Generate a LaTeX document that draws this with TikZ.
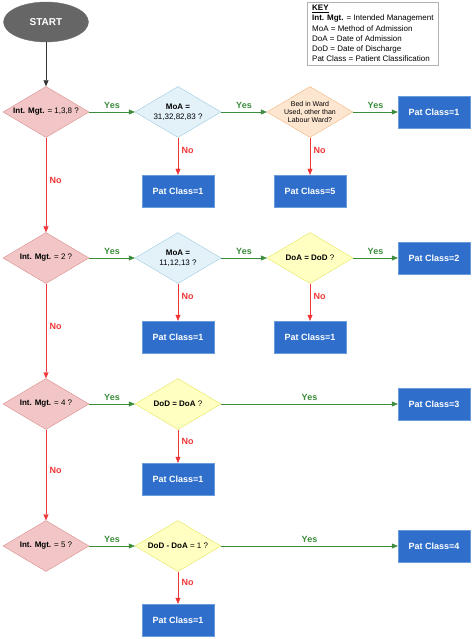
\documentclass[tikz,border=0pt]{standalone}
\usepackage{fontspec}
\setmainfont{Liberation Sans}
\usetikzlibrary{shapes.geometric,arrows.meta}
\definecolor{boxblue}{HTML}{2F6FCB}
\definecolor{boxedge}{HTML}{6A9BDB}
\definecolor{yesgreen}{HTML}{3C8C3C}
\definecolor{nored}{HTML}{EE3535}
\definecolor{redfill}{HTML}{F2C6C6}
\definecolor{rededge}{HTML}{D98C8C}
\definecolor{bluefill}{HTML}{E3F2F9}
\definecolor{blueedge}{HTML}{9CCBE0}
\definecolor{orangefill}{HTML}{FDE6D0}
\definecolor{orangeedge}{HTML}{F2B47C}
\definecolor{yellowfill}{HTML}{FFFFC2}
\definecolor{yellowedge}{HTML}{E4E45A}
\begin{document}
\begin{tikzpicture}[x=1pt,y=-1pt,
    every node/.style={font=\fontsize{8}{9.6}\selectfont,align=center},
    dia/.style={diamond,draw,inner sep=0pt,minimum width=86pt,minimum height=51pt},
    qred/.style={dia,fill=redfill,draw=rededge},
    qblue/.style={dia,fill=bluefill,draw=blueedge},
    qorange/.style={dia,fill=orangefill,draw=orangeedge},
    qyellow/.style={dia,fill=yellowfill,draw=yellowedge},
    classbox/.style={rectangle,draw=boxedge,fill=boxblue,text=white,
      font=\fontsize{9}{10}\selectfont\bfseries,minimum width=72pt,minimum height=32pt},
    yes/.style={draw=yesgreen,-{Triangle[length=6pt,width=5pt]}},
    no/.style={draw=nored,-{Triangle[length=6pt,width=5pt]}},
    yeslbl/.style={text=yesgreen,font=\fontsize{9}{10}\selectfont\bfseries},
    nolbl/.style={text=nored,font=\fontsize{9}{10}\selectfont\bfseries}]
  \useasboundingbox (0,0) rectangle (474,639);
  % Start
  \node[ellipse,fill=black!60,draw=black!55,text=white,minimum width=85pt,minimum height=40pt,
    font=\fontsize{10}{12}\selectfont\bfseries] (start) at (46,22) {START};
  % Key
  \node[draw=black!30,fill=white,align=left,anchor=north west,inner xsep=5pt,inner ysep=3pt,
    font=\fontsize{8}{10.2}\selectfont] (key) at (307,2)
    {\textbf{\underline{KEY}}\\ \textbf{Int. Mgt.} = Intended Management\\ MoA = Method of Admission\\
     DoA = Date of Admission\\ DoD = Date of Discharge\\ Pat Class = Patient Classification};
  % Row 1
  \node[qred,label={center:\textbf{Int. Mgt.} = 1,3,8 ?}] (q1) at (46,112) {};
  \node[qblue,label={center:\textbf{MoA =}\\31,32,82,83 ?}] (m1) at (178,112) {};
  \node[qorange,label={[font=\fontsize{7}{8.3}\selectfont]center:Bed in Ward\\Used, other than\\Labour Ward?}] (b1) at (310,112) {};
  \node[classbox] (p1) at (434,112) {Pat Class=1};
  \node[classbox] (c1) at (178,191) {Pat Class=1};
  \node[classbox] (c5) at (310,191) {Pat Class=5};
  % Row 2
  \node[qred,label={center:\textbf{Int. Mgt.} = 2 ?}] (q2) at (46,258) {};
  \node[qblue,label={center:\textbf{MoA =}\\11,12,13 ?}] (m2) at (178,258) {};
  \node[qyellow,label={center:\textbf{DoA = DoD} ?}] (d2) at (310,258) {};
  \node[classbox] (p2) at (434,258) {Pat Class=2};
  \node[classbox] (c2a) at (178,337) {Pat Class=1};
  \node[classbox] (c2b) at (310,337) {Pat Class=1};
  % Row 3
  \node[qred,label={center:\textbf{Int. Mgt.} = 4 ?}] (q3) at (46,404) {};
  \node[qyellow,label={center:\textbf{DoD = DoA} ?}] (d3) at (178,404) {};
  \node[classbox] (p3) at (434,404) {Pat Class=3};
  \node[classbox] (c3) at (178,479) {Pat Class=1};
  % Row 4
  \node[qred,label={center:\textbf{Int. Mgt.} = 5 ?}] (q4) at (46,546) {};
  \node[qyellow,label={center:\textbf{DoD - DoA} = 1 ?}] (d4) at (178,546) {};
  \node[classbox] (p4) at (434,546) {Pat Class=4};
  \node[classbox] (c4) at (178,620) {Pat Class=1};
  % Connectors
  \draw[draw=black!80,-{Triangle[length=6pt,width=5pt]}] (start) -- (q1);
  \draw[yes] (q1) -- node[yeslbl,above] {Yes} (m1);
  \draw[yes] (m1) -- node[yeslbl,above] {Yes} (b1);
  \draw[yes] (b1) -- node[yeslbl,above] {Yes} (p1);
  \draw[no] (m1) -- node[nolbl,right,pos=0.35] {No} (c1);
  \draw[no] (b1) -- node[nolbl,right,pos=0.35] {No} (c5);
  \draw[no] (q1) -- node[nolbl,right,pos=0.45] {No} (q2);
  \draw[yes] (q2) -- node[yeslbl,above] {Yes} (m2);
  \draw[yes] (m2) -- node[yeslbl,above] {Yes} (d2);
  \draw[yes] (d2) -- node[yeslbl,above] {Yes} (p2);
  \draw[no] (m2) -- node[nolbl,right,pos=0.35] {No} (c2a);
  \draw[no] (d2) -- node[nolbl,right,pos=0.35] {No} (c2b);
  \draw[no] (q2) -- node[nolbl,right,pos=0.45] {No} (q3);
  \draw[yes] (q3) -- node[yeslbl,above] {Yes} (d3);
  \draw[yes] (d3) -- node[yeslbl,above] {Yes} (p3);
  \draw[no] (d3) -- node[nolbl,right,pos=0.35] {No} (c3);
  \draw[no] (q3) -- node[nolbl,right,pos=0.45] {No} (q4);
  \draw[yes] (q4) -- node[yeslbl,above] {Yes} (d4);
  \draw[yes] (d4) -- node[yeslbl,above] {Yes} (p4);
  \draw[no] (d4) -- node[nolbl,right,pos=0.35] {No} (c4);
\end{tikzpicture}
\end{document}
